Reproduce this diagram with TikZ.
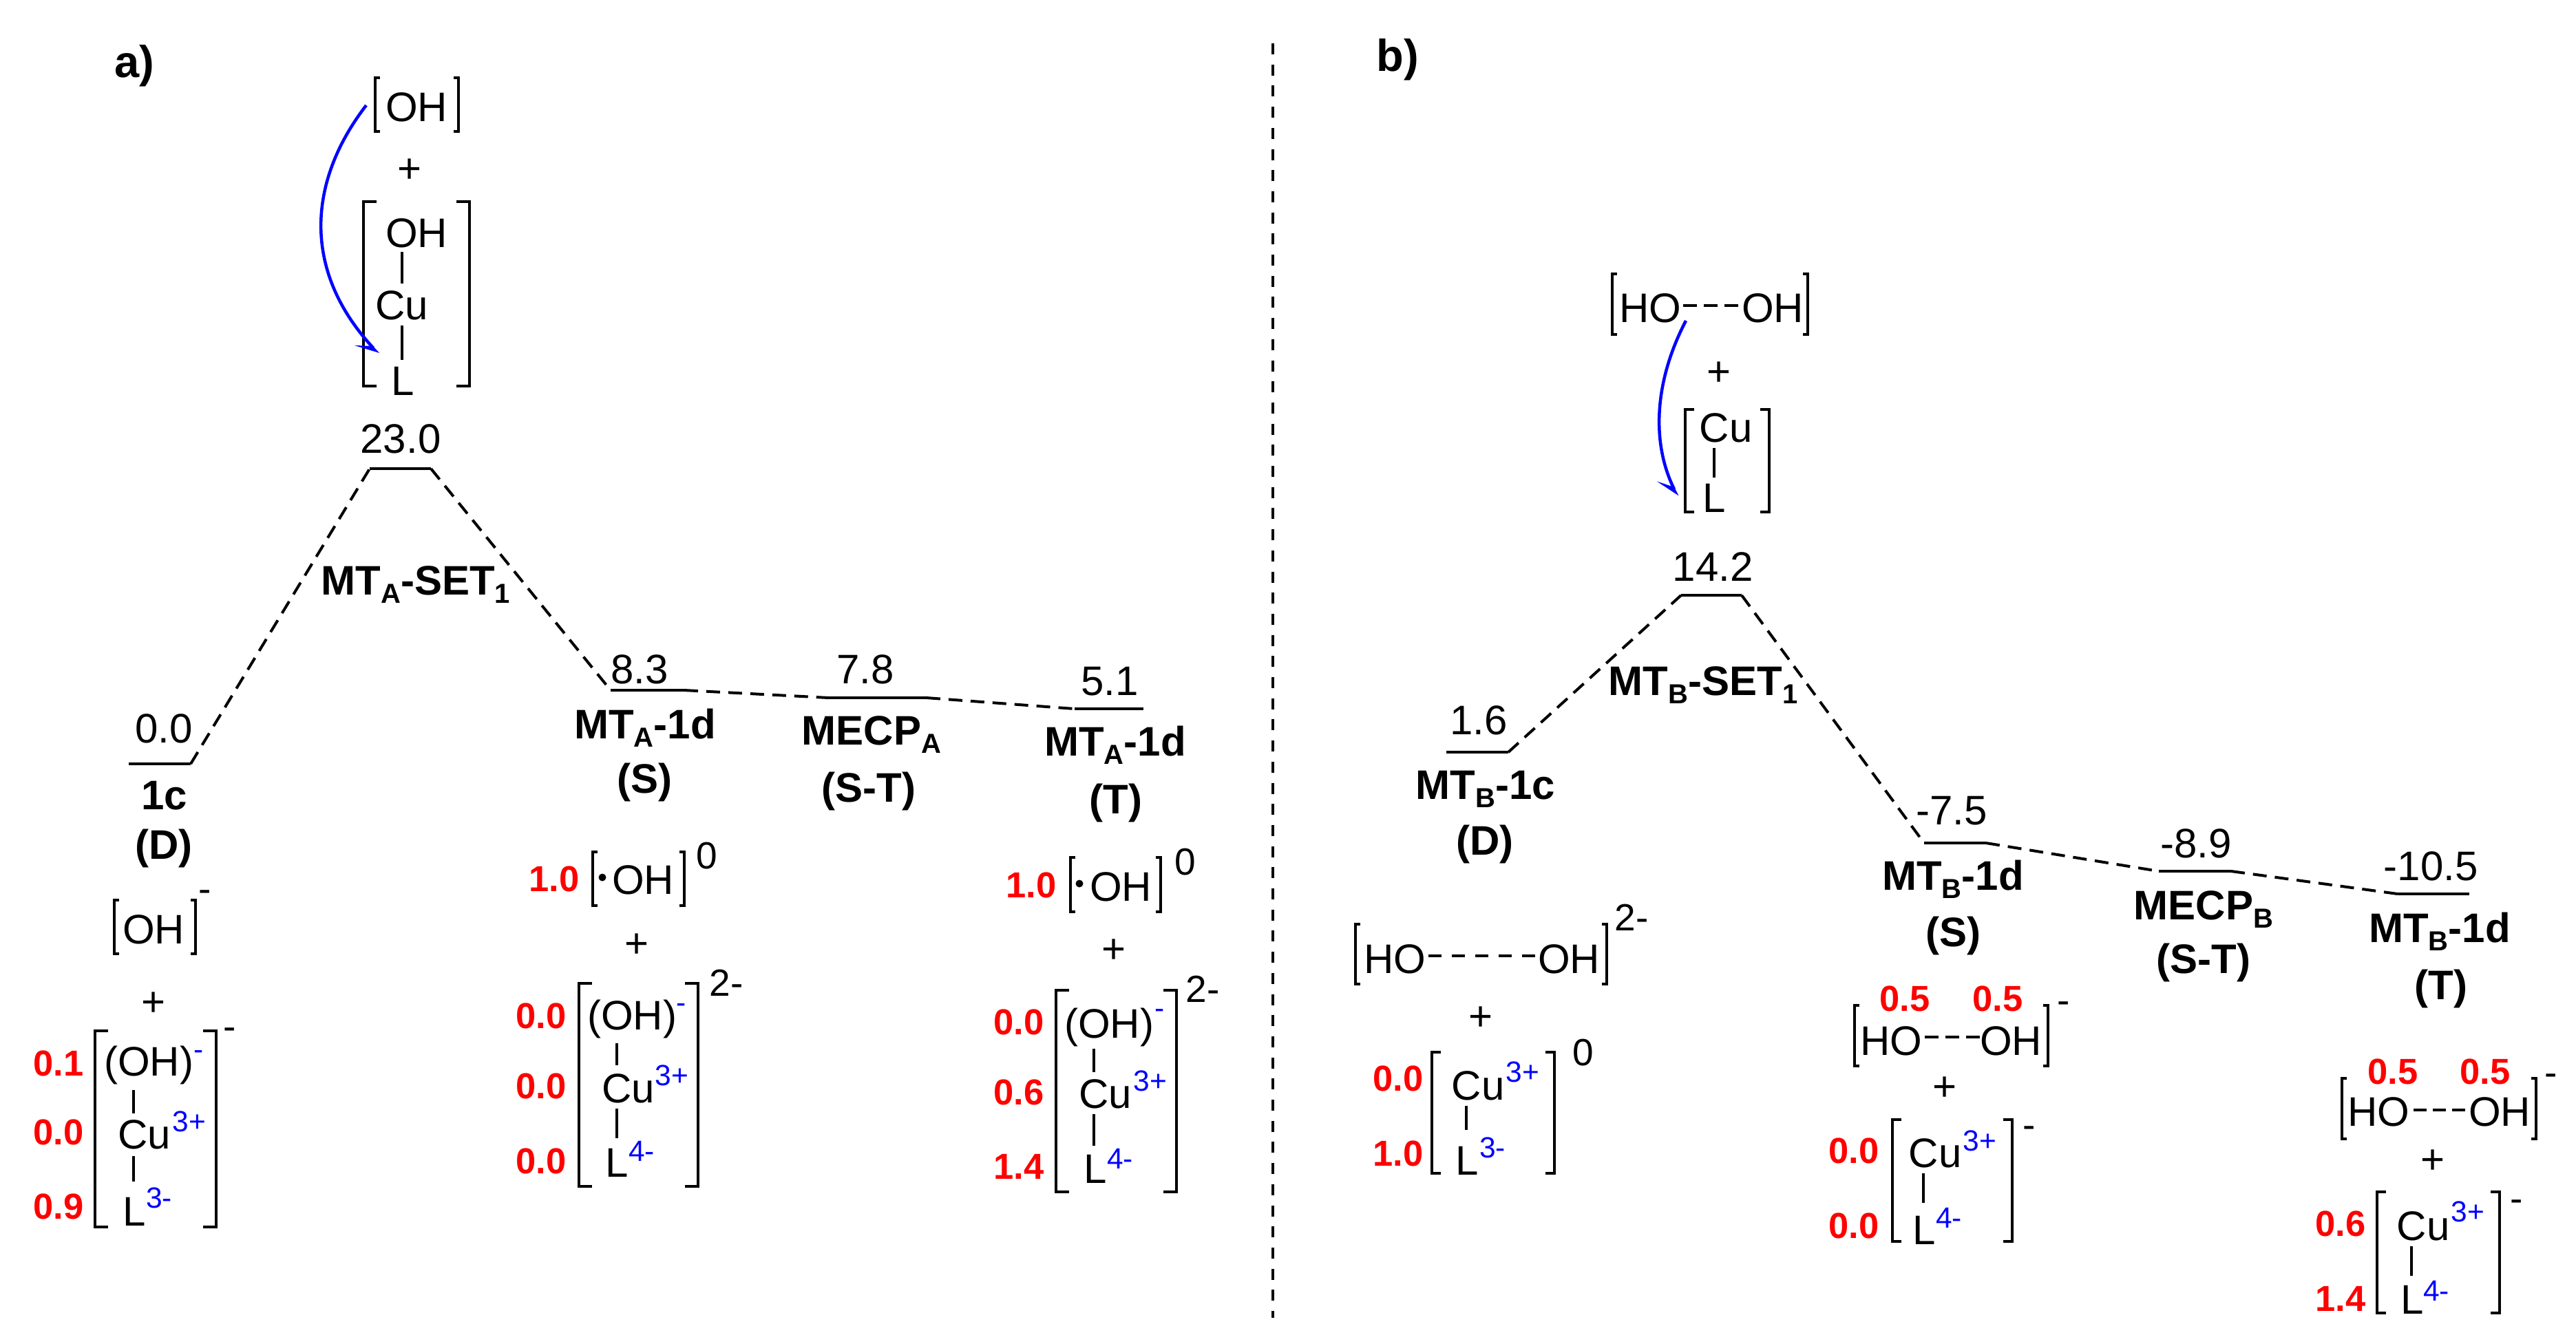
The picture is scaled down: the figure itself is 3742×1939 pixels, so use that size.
\documentclass[tikz,border=0pt]{standalone}
\usepackage{fontspec}
\setmainfont{Liberation Sans}
\usetikzlibrary{arrows.meta}
\newcommand{\lowr}[1]{\raisebox{-2.4pt}{\fontsize{8}{8}\selectfont #1}}
\newcommand{\brk}[6]{\draw[brkline] (#2+#6,#4) -- (#2,#4) -- (#2,#5) -- (#2+#6,#5);
 \draw[brkline] (#3-#6,#4) -- (#3,#4) -- (#3,#5) -- (#3-#6,#5);
 \coordinate (#1) at (#2,#4);}
\newcommand{\bond}[5]{\coordinate (#1a) at (#2,#3); \coordinate (#1b) at (#4,#5);
 \draw[bondline] (#1a) -- (#1b);}
\newcommand{\lvl}[4]{\coordinate (#1a) at (#2,#4); \coordinate (#1b) at (#3,#4);
 \draw[lvlline] (#1a) -- (#1b);}

\begin{document}
\begin{tikzpicture}[x=0.2pt,y=-0.2pt,
every node/.style={inner sep=0pt,anchor=base},
txt/.style={font=\fontsize{12}{12}\selectfont,yshift=-4.3pt},
lbl/.style={font=\fontsize{12}{12}\selectfont\bfseries,yshift=-4.3pt},
panel/.style={font=\fontsize{13}{13}\selectfont\bfseries,yshift=-4.3pt},
redval/.style={font=\fontsize{10.5}{10.5}\selectfont\bfseries,text=red,yshift=-3.7pt},
bluechg/.style={font=\fontsize{8.5}{8.5}\selectfont,text=blue,yshift=-3pt},
chg/.style={font=\fontsize{11}{11}\selectfont,yshift=-3.9pt},
minus/.style={font=\fontsize{11}{11}\selectfont,yshift=-3pt},
bluemin/.style={font=\fontsize{8.5}{8.5}\selectfont,text=blue,yshift=-2.3pt},
raddot/.style={circle,fill=black,minimum size=2.2pt,anchor=center},
brkline/.style={black,line width=0.8pt},
bondline/.style={black,line width=0.7pt},
lvlline/.style={black,line width=0.8pt},
conn/.style={black,line width=0.8pt,dash pattern=on 4pt off 2.4pt},
hbond/.style={black,line width=0.8pt,dash pattern=on 4pt off 2pt},
epath/.style={blue,line width=0.9pt,-{Stealth[harpoon,swap,length=6pt,width=7pt,inset=3.5pt]}}]
\useasboundingbox (0,0) rectangle (3742,1939);

\node[panel] (pa) at (195,91) {a)};
\node[panel] (pb) at (2030,82) {b)};
\coordinate (divt) at (1849,63);
\coordinate (divb) at (1849,1915);
\draw[black,line width=0.8pt,dash pattern=on 3.2pt off 2.94pt] (divt) -- (divb);

\lvl{la}{187}{277}{1110}
\lvl{lb}{537}{626}{681}
\lvl{lc}{887}{994}{1003}
\lvl{ld}{1204}{1346}{1014}
\lvl{le}{1561}{1661}{1030}
\draw[conn] (lab) -- (lba);
\draw[conn] (lbb) -- (lca);
\draw[conn] (lcb) -- (lda);
\draw[conn] (ldb) -- (lea);

\node[txt] (ea) at (238,1058) {0.0};
\node[txt] (eb) at (582,637) {23.0};
\node[txt] (ec) at (929,972) {8.3};
\node[txt] (ed) at (1257,972) {7.8};
\node[txt] (ee) at (1612,989) {5.1};
\node[lbl] (na) at (239,1155) {1c};
\node[lbl] (naa) at (238,1227) {(D)};
\node[lbl] (nb) at (604,843) {MT\lowr{A}-SET\lowr{1}};
\node[lbl] (nc) at (937,1052) {MT\lowr{A}-1d};
\node[lbl] (ncc) at (936,1131) {(S)};
\node[lbl] (nd) at (1266,1061) {MECP\lowr{A}};
\node[lbl] (ndd) at (1262,1144) {(S-T)};
\node[lbl] (ne) at (1620,1077) {MT\lowr{A}-1d};
\node[lbl] (nee) at (1621,1161) {(T)};

\brk{bta}{545}{666}{113}{191}{7}
\node[txt] (tsoh) at (605,155) {OH};
\node[txt] (tsp) at (595,244) {+};
\brk{btb}{528}{682}{293}{561}{19}
\node[txt] (tsoh2) at (605,338) {OH};
\bond{tsb1}{584}{366}{584}{412}
\node[txt] (tscu) at (584,443) {Cu};
\bond{tsb2}{584}{473}{584}{523}
\node[txt] (tsl) at (585,553) {L};
\coordinate (tsarrs) at (532,153);
\coordinate (tsarre) at (550,514);
\draw[epath] (tsarrs) .. controls (448,262) and (437,392) .. (tsarre);

\brk{bca}{166}{284}{1308}{1386}{7}
\node[txt] (coh) at (223,1350) {OH};
\node[minus] (cm1) at (298,1295) {-};
\node[txt] (cp) at (223,1455) {+};
\brk{bcb}{138}{314}{1498}{1783}{19}
\node[minus] (cm2) at (334,1495) {-};
\node[txt] (coh2) at (216,1542) {(OH)};
\node[bluemin] (cm3) at (289,1528) {-};
\bond{cb1}{194}{1584}{194}{1618}
\node[txt] (ccu) at (210,1648) {Cu};
\node[bluechg] (cc3) at (275,1629) {3+};
\bond{cb2}{194}{1680}{194}{1717}
\node[txt] (cl) at (195,1760) {L};
\node[bluechg] (cl3) at (231,1740) {3-};
\node[redval] (cv1) at (85,1545) {0.1};
\node[redval] (cv2) at (85,1645) {0.0};
\node[redval] (cv3) at (85,1753) {0.9};

\node[redval] (sv0) at (805,1277) {1.0};
\brk{bsa}{861}{994}{1238}{1316}{7}
\node[raddot] (srad) at (875,1275) {};
\node[txt] (soh) at (934,1278) {OH};
\node[chg] (sz) at (1027,1243) {0};
\node[txt] (sp) at (925,1370) {+};
\brk{bsb}{841}{1014}{1429}{1724}{19}
\node[chg] (s2) at (1055,1428) {2-};
\node[redval] (sv1) at (786,1476) {0.0};
\node[redval] (sv2) at (786,1578) {0.0};
\node[redval] (sv3) at (786,1687) {0.0};
\node[txt] (soh2) at (918,1475) {(OH)};
\node[bluemin] (sm) at (990,1460) {-};
\bond{sb1}{896}{1516}{896}{1548}
\node[txt] (scu) at (913,1581) {Cu};
\node[bluechg] (sc3) at (976,1562) {3+};
\bond{sb2}{896}{1611}{896}{1654}
\node[txt] (sl) at (896,1689) {L};
\node[bluechg] (sl4) at (932,1672) {4-};

\node[redval] (tv0) at (1498,1286) {1.0};
\brk{bua}{1555}{1686}{1246}{1325}{7}
\node[raddot] (urad) at (1568,1284) {};
\node[txt] (uoh) at (1628,1288) {OH};
\node[chg] (uz) at (1722,1252) {0};
\node[txt] (up) at (1618,1378) {+};
\brk{bub}{1534}{1709}{1439}{1732}{19}
\node[chg] (u2) at (1747,1437) {2-};
\node[redval] (tv1) at (1480,1485) {0.0};
\node[redval] (tv2) at (1480,1587) {0.6};
\node[redval] (tv3) at (1480,1695) {1.4};
\node[txt] (uoh2) at (1611,1487) {(OH)};
\node[bluemin] (um) at (1685,1468) {-};
\bond{ub1}{1589}{1524}{1589}{1558}
\node[txt] (ucu) at (1606,1589) {Cu};
\node[bluechg] (uc3) at (1671,1570) {3+};
\bond{ub2}{1589}{1619}{1589}{1665}
\node[txt] (ul) at (1591,1698) {L};
\node[bluechg] (ul4) at (1627,1683) {4-};

\lvl{ma}{2101}{2191}{1093}
\lvl{mb}{2442}{2530}{865}
\lvl{mc}{2795}{2885}{1225}
\lvl{md}{3136}{3241}{1266}
\lvl{me}{3483}{3587}{1299}
\draw[conn] (mab) -- (mba);
\draw[conn] (mbb) -- (mca);
\draw[conn] (mcb) -- (mda);
\draw[conn] (mdb) -- (mea);

\node[txt] (fa) at (2148,1046) {1.6};
\node[txt] (fb) at (2488,823) {14.2};
\node[txt] (fc) at (2835,1177) {-7.5};
\node[txt] (fd) at (3190,1225) {-8.9};
\node[txt] (fe) at (3531,1258) {-10.5};
\node[lbl] (oa) at (2158,1140) {MT\lowr{B}-1c};
\node[lbl] (oaa) at (2157,1221) {(D)};
\node[lbl] (ob) at (2474,989) {MT\lowr{B}-SET\lowr{1}};
\node[lbl] (oc) at (2837,1272) {MT\lowr{B}-1d};
\node[lbl] (occ) at (2837,1354) {(S)};
\node[lbl] (od) at (3201,1315) {MECP\lowr{B}};
\node[lbl] (odd) at (3201,1393) {(S-T)};
\node[lbl] (oe) at (3544,1348) {MT\lowr{B}-1d};
\node[lbl] (oee) at (3546,1431) {(T)};

\brk{bva}{2342}{2626}{398}{486}{7}
\node[txt] (vho) at (2397,447) {HO};
\node[txt] (voh) at (2575,447) {OH};
\coordinate (vda) at (2445,444);
\coordinate (vdb) at (2525,444);
\draw[hbond] (vda) -- (vdb);
\node[txt] (vp) at (2497,539) {+};
\brk{bvb}{2448}{2570}{595}{744}{13}
\node[txt] (vcu) at (2507,621) {Cu};
\bond{vb1}{2490}{651}{2490}{694}
\node[txt] (vl) at (2490,723) {L};
\coordinate (varrs) at (2449,466);
\coordinate (varre) at (2437,721);
\draw[epath] (varrs) .. controls (2405,550) and (2397,640) .. (varre);

\brk{bwa}{1969}{2334}{1343}{1430}{7}
\node[txt] (who) at (2026,1393) {HO};
\node[txt] (woh) at (2279,1393) {OH};
\coordinate (wda) at (2075,1389);
\coordinate (wdb) at (2230,1389);
\draw[hbond,dash pattern=on 3.8pt off 3pt] (wda) -- (wdb);
\node[chg] (w2) at (2370,1333) {2-};
\node[txt] (wp) at (2151,1476) {+};
\brk{bwb}{2080}{2258}{1529}{1705}{13}
\node[chg] (wz) at (2300,1529) {0};
\node[redval] (wv1) at (2031,1567) {0.0};
\node[redval] (wv2) at (2031,1676) {1.0};
\node[txt] (wcu) at (2147,1577) {Cu};
\node[bluechg] (wc3) at (2212,1557) {3+};
\bond{wb1}{2130}{1607}{2130}{1642}
\node[txt] (wl) at (2131,1686) {L};
\node[bluechg] (wl3) at (2168,1667) {3-};

\node[redval] (xv1) at (2767,1451) {0.5};
\node[redval] (xv2) at (2902,1451) {0.5};
\brk{bxa}{2694}{2975}{1461}{1549}{7}
\node[txt] (xho) at (2747,1512) {HO};
\node[txt] (xoh) at (2921,1512) {OH};
\coordinate (xda) at (2796,1507);
\coordinate (xdb) at (2876,1507);
\draw[hbond] (xda) -- (xdb);
\node[minus] (xm) at (2998,1457) {-};
\node[txt] (xp) at (2825,1578) {+};
\brk{bxb}{2749}{2923}{1627}{1804}{13}
\node[minus] (xm2) at (2948,1638) {-};
\node[redval] (xv3) at (2693,1672) {0.0};
\node[redval] (xv4) at (2693,1781) {0.0};
\node[txt] (xcu) at (2811,1675) {Cu};
\node[bluechg] (xc3) at (2876,1657) {3+};
\bond{xb1}{2794}{1705}{2794}{1748}
\node[txt] (xl) at (2795,1787) {L};
\node[bluechg] (xl4) at (2831,1769) {4-};

\node[redval] (yv1) at (3476,1557) {0.5};
\node[redval] (yv2) at (3610,1557) {0.5};
\brk{bya}{3402}{3684}{1567}{1655}{7}
\node[txt] (yho) at (3455,1615) {HO};
\node[txt] (yoh) at (3631,1615) {OH};
\coordinate (yda) at (3506,1613);
\coordinate (ydb) at (3582,1613);
\draw[hbond,dash pattern=on 3.8pt off 1.8pt] (yda) -- (ydb);
\node[minus] (ym) at (3706,1562) {-};
\node[txt] (yp) at (3534,1684) {+};
\brk{byb}{3453}{3631}{1732}{1908}{13}
\node[minus] (ym2) at (3656,1745) {-};
\node[redval] (yv3) at (3400,1778) {0.6};
\node[redval] (yv4) at (3400,1887) {1.4};
\node[txt] (ycu) at (3520,1781) {Cu};
\node[bluechg] (yc3) at (3585,1760) {3+};
\bond{yb1}{3503}{1811}{3503}{1854}
\node[txt] (yl) at (3504,1888) {L};
\node[bluechg] (yl4) at (3539,1875) {4-};
\end{tikzpicture}
\end{document}
